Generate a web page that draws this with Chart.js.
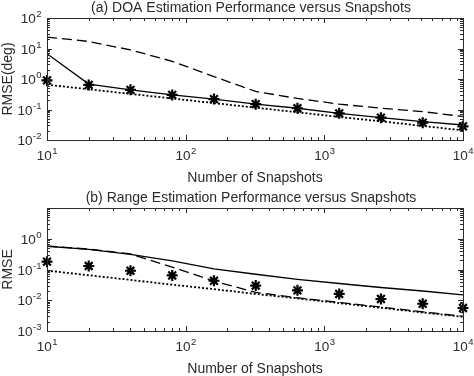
<!DOCTYPE html>
<html>
<head>
<meta charset="utf-8">
<script src="https://cdn.jsdelivr.net/npm/chart.js@4.4.1/dist/chart.umd.min.js"></script>
<style>
  html, body { margin: 0; padding: 0; background: #fff; }
  #wrap { position: relative; width: 474px; height: 376px; }
  #wrap canvas { position: absolute; left: 0; }
</style>
</head>
<body>
<div id="wrap">
  <canvas id="doaChart" width="474" height="188" style="top:0px"></canvas>
  <canvas id="rangeChart" width="474" height="188" style="top:188px"></canvas>
</div>
<script>
// number of snapshots (x axis)
const snapshots = [10, 20, 40, 80, 160, 320, 640, 1280, 2560, 5120, 10000];

// (a) DOA RMSE (deg)
const doaDashed = [23.7, 17, 9, 3.8, 1.2, 0.39, 0.23, 0.15, 0.11, 0.085, 0.059];
const doaSolid = [6.7, 0.68, 0.44, 0.30, 0.22, 0.15, 0.11, 0.075, 0.054, 0.04, 0.031];
const doaStars = [0.9, 0.64, 0.44, 0.30, 0.22, 0.15, 0.11, 0.075, 0.054, 0.037, 0.028];
const doaDotted = [0.65, 0.46, 0.325, 0.23, 0.162, 0.115, 0.081, 0.057, 0.041, 0.029, 0.0206];

// (b) range RMSE
const rangeSolid = [0.57, 0.45, 0.31, 0.19, 0.105, 0.07, 0.048, 0.035, 0.026, 0.02, 0.015];
const rangeDashed = [0.58, 0.46, 0.32, 0.12, 0.042, 0.018, 0.012, 0.0085, 0.006, 0.0042, 0.003];
const rangeStars = [0.18, 0.13, 0.091, 0.064, 0.043, 0.030, 0.021, 0.016, 0.011, 0.0077, 0.0056];
const rangeDotted = [0.092, 0.065, 0.046, 0.032, 0.023, 0.016, 0.0115, 0.0081, 0.0057, 0.004, 0.0029];

// tick labels (exponents of 10)
const xTickExps = [1, 2, 3, 4];
const doaTickExps = [-2, -1, 0, 1, 2];
const rangeTickExps = [-3, -2, -1, 0];

const ink = '#2b2b2b';
const fontName = '"Liberation Sans", Arial, sans-serif';

function pts(ys) {
  return snapshots.map((x, i) => ({ x: x, y: ys[i] }));
}

function lineSet(ys, dash, width) {
  return {
    data: pts(ys),
    borderColor: '#000',
    borderWidth: width,
    borderDash: dash,
    pointRadius: 0,
    fill: false,
    tension: 0
  };
}

function starSet(ys) {
  return {
    data: pts(ys),
    showLine: false,
    borderColor: '#000',
    pointStyle: 'star',
    pointRadius: 5.5,
    pointBorderWidth: 2.2,
    clip: false
  };
}

// base "10" with a raised exponent
function powLabel(ctx, exp, x, y, align) {
  const base = '10', ex = String(exp);
  ctx.font = '13.5px ' + fontName;
  const wb = ctx.measureText(base).width;
  ctx.font = '9.5px ' + fontName;
  const we = ctx.measureText(ex).width;
  let x0 = align === 'right' ? x - wb - we : x - (wb + we) / 2;
  ctx.textAlign = 'left';
  ctx.textBaseline = 'alphabetic';
  ctx.font = '13.5px ' + fontName;
  ctx.fillText(base, x0, y);
  ctx.font = '9.5px ' + fontName;
  ctx.fillText(ex, x0 + wb + 0.5, y - 6);
}

// MATLAB-like box, inward ticks, labels and titles
const matlabAxes = {
  id: 'matlabAxes',
  afterDraw(chart, args, o) {
    const ctx = chart.ctx;
    const a = chart.chartArea;
    const xs = chart.scales.x, ys = chart.scales.y;
    ctx.save();
    ctx.strokeStyle = ink;
    ctx.fillStyle = ink;
    ctx.lineWidth = 1;
    ctx.strokeRect(Math.round(a.left) + 0.5, Math.round(a.top) + 0.5,
      Math.round(a.right - a.left), Math.round(a.bottom - a.top));

    ctx.beginPath();
    for (let e = Math.round(Math.log10(xs.min)); e < Math.round(Math.log10(xs.max)) + 1; e++) {
      for (let m = 1; m <= 9; m++) {
        const v = m * Math.pow(10, e);
        if (v < xs.min || v > xs.max) continue;
        const px = Math.round(xs.getPixelForValue(v)) + 0.5;
        const len = m === 1 ? 5 : 3;
        ctx.moveTo(px, a.bottom); ctx.lineTo(px, a.bottom - len);
        ctx.moveTo(px, a.top); ctx.lineTo(px, a.top + len);
      }
    }
    for (let e = Math.round(Math.log10(ys.min)); e < Math.round(Math.log10(ys.max)) + 1; e++) {
      for (let m = 1; m <= 9; m++) {
        const v = m * Math.pow(10, e);
        if (v < ys.min * 0.999 || v > ys.max * 1.001) continue;
        const py = Math.round(ys.getPixelForValue(v)) + 0.5;
        const len = m === 1 ? 5 : 3;
        ctx.moveTo(a.left, py); ctx.lineTo(a.left + len, py);
        ctx.moveTo(a.right, py); ctx.lineTo(a.right - len, py);
      }
    }
    ctx.stroke();

    xTickExps.forEach(e => {
      powLabel(ctx, e, xs.getPixelForValue(Math.pow(10, e)), a.bottom + 20, 'center');
    });
    o.yExps.forEach(e => {
      powLabel(ctx, e, a.left - 6, ys.getPixelForValue(Math.pow(10, e)) + 5, 'right');
    });

    ctx.font = '14px ' + fontName;
    ctx.textAlign = 'center';
    ctx.textBaseline = 'middle';
    ctx.fillText(o.title, 251, o.titleY);
    ctx.font = '14px ' + fontName;
    ctx.fillText('Number of Snapshots', (a.left + a.right) / 2, a.bottom + 38);
    ctx.translate(8, (a.top + a.bottom) / 2);
    ctx.rotate(-Math.PI / 2);
    ctx.font = '14px ' + fontName;
    ctx.fillText(o.ylabel, 0, 0);
    ctx.restore();
  }
};

function makeChart(id, sets, yMin, yMax, topPad, xHeight, opts) {
  return new Chart(document.getElementById(id), {
    type: 'line',
    data: { datasets: sets },
    options: {
      responsive: false,
      animation: false,
      layout: { padding: { left: 0, right: 11, top: topPad, bottom: 0 } },
      plugins: {
        legend: { display: false },
        tooltip: { enabled: false },
        matlabAxes: opts
      },
      scales: {
        x: {
          type: 'logarithmic', min: 10, max: 10000,
          grid: { display: false }, border: { display: false },
          ticks: { display: false },
          afterFit: s => { s.height = xHeight; }
        },
        y: {
          type: 'logarithmic', min: yMin, max: yMax,
          grid: { display: false }, border: { display: false },
          ticks: { display: false },
          afterFit: s => { s.width = 47; }
        }
      }
    },
    plugins: [matlabAxes]
  });
}

makeChart('doaChart', [
  lineSet(doaDashed, [10, 5], 1.3),
  lineSet(doaSolid, [], 1.3),
  lineSet(doaDotted, [2, 2], 1.8),
  starSet(doaStars)
], 0.01, 100, 18, 48, {
  title: '(a) DOA Estimation Performance versus Snapshots',
  titleY: 8,
  ylabel: 'RMSE(deg)',
  yExps: doaTickExps
});

makeChart('rangeChart', [
  lineSet(rangeDashed, [10, 5], 1.3),
  lineSet(rangeSolid, [], 1.3),
  lineSet(rangeDotted, [2, 2], 1.8),
  starSet(rangeStars)
], 0.001, 10, 20, 45, {
  title: '(b) Range Estimation Performance versus Snapshots',
  titleY: 10,
  ylabel: 'RMSE',
  yExps: rangeTickExps
});
</script>
</body>
</html>
